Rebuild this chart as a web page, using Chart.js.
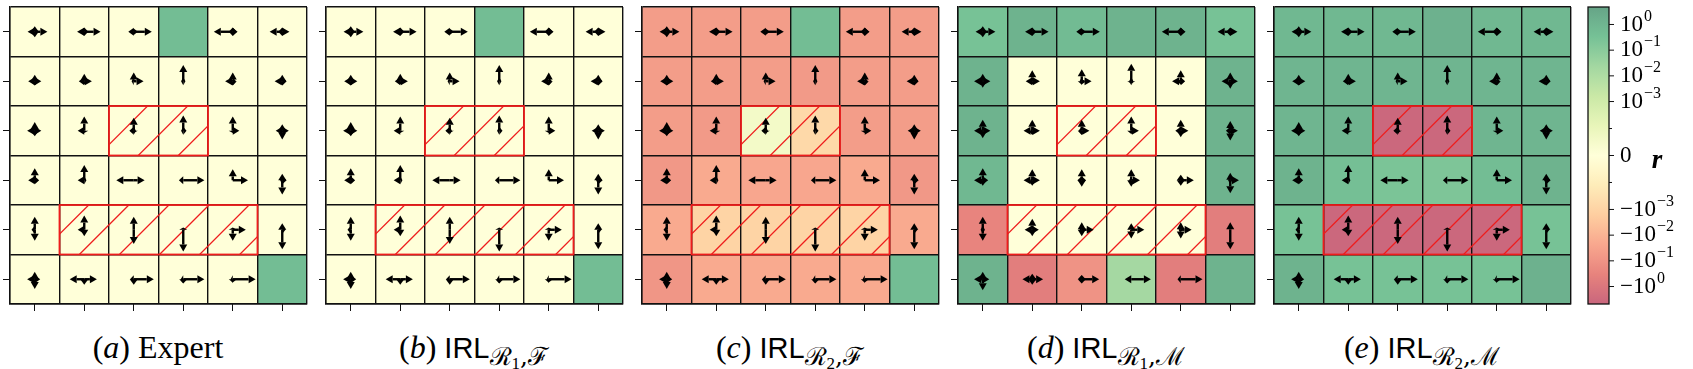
<!DOCTYPE html>
<html>
<head>
<meta charset="utf-8">
<script src="https://cdn.jsdelivr.net/npm/chart.js@4.4.1/dist/chart.umd.min.js"></script>
<style>
  body { margin: 0; background: #fff; width: 1693px; height: 369px; position: relative; overflow: hidden; }
  canvas { position: absolute; top: 0; }
  .cap { position: absolute; top: 331px; width: 316px; text-align: center; font-family: 'Liberation Serif', serif; font-size: 32px; line-height: 32px; color: #000; white-space: nowrap; }
  .cap .sf { font-family: 'Liberation Sans', sans-serif; font-size: 29px; }
  .cap .sub { font-family: 'DejaVu Serif', serif; font-size: 25px; position: relative; top: 7px; }
  .cap .sub2 { font-family: 'Liberation Serif', serif; font-size: 17px; position: relative; top: 4px; }
</style>
</head>
<body>
<script>
// grid layout
const cols = ['0', '1', '2', '3', '4', '5'];
const rows = [0, 1, 2, 3, 4, 5];

// reward per cell, row 0 = top
const rewardExpert = [
    [0, 0, 0, 0.5, 0, 0],
    [0, 0, 0, 0, 0, 0],
    [0, 0, 0, 0, 0, 0],
    [0, 0, 0, 0, 0, 0],
    [0, 0, 0, 0, 0, 0],
    [0, 0, 0, 0, 0, 0.5]
];
const rewardR1F = [
    [0, 0, 0, 0.5, 0, 0],
    [0, 0, 0, 0, 0, 0],
    [0, 0, 0, 0, 0, 0],
    [0, 0, 0, 0, 0, 0],
    [0, 0, 0, 0, 0, 0],
    [0, 0, 0, 0, 0, 0.5]
];
const rewardR2F = [
    [-0.05, -0.05, -0.05, 0.5, -0.05, -0.05],
    [-0.05, -0.05, -0.05, -0.06, -0.05, -0.05],
    [-0.05, -0.06, 0.0003, -0.0009, -0.05, -0.05],
    [-0.07, -0.02, -0.025, -0.025, -0.02, -0.07],
    [-0.02, -0.001, -0.001, -0.001, -0.001, -0.02],
    [-0.08, -0.02, -0.02, -0.02, -0.02, 0.5]
];
const rewardR1M = [
    [0.3, 1.3, 0.6, 1.3, 1.3, 0.3],
    [1.3, 0, 0, 0, 0, 1.3],
    [1.3, 0, 0, 0, 0, 1.3],
    [0.8, 0, 0, 0, 0, 1.3],
    [-0.3, 0, 0, 0, 0, -0.5],
    [1.3, -0.5, -0.1, 0.02, -0.5, 1.3]
];
const rewardR2M = [
    [0.8, 0.8, 0.8, 1.5, 0.8, 0.8],
    [1.0, 1.0, 1.0, 1.0, 1.0, 1.0],
    [1.0, 1.0, -4, -4, 1.0, 1.0],
    [1.3, 0.4, 0.25, 0.2, 0.5, 1.3],
    [0.3, -4, -4, -4, -4, 0.3],
    [1.3, 0.3, 0.3, 0.3, 0.3, 1.5]
];

// policy arrows per cell: [up, down, left, right], null = goal
const policyShared = [
    [[.25, .25, .33, .58], [.2, .2, .33, .75], [.15, .15, .25, .83], null, [.2, .2, .87, .22], [.2, .2, .58, .33]],
    [[.3, .2, .3, .3], [.35, .15, .25, .35], [.4, .05, .1, .45], [.75, .05, .1, .1], [.4, .2, .35, .15], [.3, .2, .35, .2]],
    [[.4, .25, .35, .3], [.65, .1, .3, .05], [.6, .1, .2, .1], [.7, .05, .1, .15], [.65, .1, .05, .3], [.3, .4, .3, .3]],
    [[.55, .15, .3, .2], [.7, .05, .3, .1], [.05, .05, .8, .5], [.05, .05, .2, .97], [.5, .05, .05, .7], [.3, .65, .1, .2]],
    [[.6, .5, .15, .05], [.65, .3, .3, .05], [.6, .65, .05, .05], [.1, 1.0, .05, .05], [.1, .5, .05, .6], [.3, .9, .05, .15]],
    [[.35, .45, .35, .25], [.05, .25, .67, .58], [.05, .25, .17, .92], [.05, .2, .12, .97], [.05, .15, .1, 1.05], null]
];
const policyR1M = [
    [[.25, .25, .33, .58], [.2, .2, .33, .75], [.15, .15, .25, .83], null, [.2, .2, .87, .22], [.2, .2, .58, .33]],
    [[.35, .3, .4, .35], [.5, .15, .3, .35], [.55, .15, .1, .45], [.8, .1, .1, .1], [.5, .15, .4, .2], [.4, .35, .4, .35]],
    [[.5, .35, .4, .35], [.5, .2, .4, .35], [.5, .2, .15, .35], [.65, .15, .05, .35], [.5, .3, .25, .35], [.45, .45, .2, .35]],
    [[.55, .25, .4, .25], [.5, .25, .4, .35], [.5, .3, .2, .2], [.5, .3, .1, .4], [.25, .25, .1, .6], [.35, .6, .1, .4]],
    [[.6, .5, .1, .1], [.5, .3, .35, .3], [.35, .3, .1, .55], [.3, .4, .05, .6], [.35, .4, .1, .5], [.35, .9, .05, .05]],
    [[.35, .5, .4, .3], [.25, .25, .45, .5], [.2, .2, .15, .8], [.05, .05, .3, .9], [.05, .05, .15, 1.0], null]
];

// hatched (red) regions: row, first col, last col
const hatchRow = [2, 4];
const hatchFrom = [2, 1];
const hatchTo = [3, 4];

const panelRewards = [rewardExpert, rewardR1F, rewardR2F, rewardR1M, rewardR2M];
const panelPolicies = [policyShared, policyShared, policyShared, policyR1M, policyShared];
const panelLetters = ['a', 'b', 'c', 'd', 'e'];
const panelNames = ['Expert', 'IRL', 'IRL', 'IRL', 'IRL'];
const panelSubR = ['', '1', '2', '1', '2'];
const panelSubSet = ['', 'ℱ', 'ℱ', 'ℳ', 'ℳ'];

// colour bar ticks
const cbarTicks = [1, 0.1, 0.01, 0.001, 0, -0.001, -0.01, -0.1, -1];
const cbarExp = ['0', '−1', '−2', '−3', '', '−3', '−2', '−1', '0'];
const cbarMinor = [0.0005, -0.0005];

// symlog colour scale
const linThresh = 1e-3;
const linHalf = 2.1;
const sMax = 5.78;
const symlog = (v) => {
    const a = Math.abs(v);
    const s = a <= linThresh ? linHalf * a / linThresh : linHalf + Math.log10(a / linThresh);
    return v < 0 ? -s : s;
};

const RdYlGn = [[165, 0, 38], [215, 48, 39], [244, 109, 67], [253, 174, 97], [254, 224, 139], [255, 255, 191],
    [217, 239, 139], [166, 217, 106], [102, 189, 99], [26, 152, 80], [0, 104, 55]];
const cmapAlpha = 0.6;

const cmap = (t) => {
    t = Math.max(0, Math.min(1, t));
    const p = t * 10;
    const i = Math.min(9, Math.floor(p));
    const f = p - i;
    const c = RdYlGn[i].map((v, k) => v + (RdYlGn[i + 1][k] - v) * f);
    const w = c.map(v => Math.round(255 - cmapAlpha * (255 - v)));
    return `rgb(${w[0]},${w[1]},${w[2]})`;
};
const colorFor = (v) => cmap((symlog(v) + sMax) / (2 * sMax));

// arrows + hatching on top of the heatmap
const drawArrow = (ctx, x, y, dx, dy, len) => {
    if (len < 1.5) return;
    const hl = Math.min(7, len);
    const hw = 4;
    const tx = x + dx * len, ty = y + dy * len;
    const bx = tx - dx * hl, by = ty - dy * hl;
    ctx.beginPath();
    ctx.moveTo(x, y);
    ctx.lineTo(bx, by);
    ctx.stroke();
    ctx.beginPath();
    ctx.moveTo(tx, ty);
    ctx.lineTo(bx - dy * hw, by + dx * hw);
    ctx.lineTo(bx + dy * hw, by - dx * hw);
    ctx.closePath();
    ctx.fill();
};

const overlayPlugin = {
    id: 'overlay',
    afterDraw(chart, args, opts) {
        const ctx = chart.ctx;
        const xs = chart.scales.x;
        const ys = chart.scales.yGrid;
        const area = chart.chartArea;
        const cw = xs.getPixelForValue(1) - xs.getPixelForValue(0);

        // hatched blocks
        ctx.save();
        hatchRow.forEach((r, k) => {
            const x0 = xs.getPixelForValue(hatchFrom[k]) - cw / 2;
            const x1 = xs.getPixelForValue(hatchTo[k]) + cw / 2;
            const y0 = ys.getPixelForValue(r);
            const y1 = ys.getPixelForValue(r + 1);
            ctx.save();
            ctx.beginPath();
            ctx.rect(x0, y0, x1 - x0, y1 - y0);
            ctx.clip();
            ctx.strokeStyle = '#ee1c1c';
            ctx.lineWidth = 1.3;
            const gap = 0.81 * cw;
            const phase = 0.73 * cw;
            for (let c = phase - 2 * gap; c < 2 * (area.right - area.left) + gap; c += gap) {
                // line x + y = c in chart-area coordinates
                ctx.beginPath();
                ctx.moveTo(area.left + c, area.top);
                ctx.lineTo(area.left + c - (area.bottom - area.top), area.bottom);
                ctx.stroke();
            }
            ctx.restore();
            ctx.strokeStyle = '#ee1c1c';
            ctx.lineWidth = 1.8;
            ctx.strokeRect(x0, y0, x1 - x0, y1 - y0);
        });
        ctx.restore();

        // policy arrows
        const policy = opts.policy;
        const unit = 0.44 * cw;
        ctx.save();
        ctx.strokeStyle = '#000';
        ctx.fillStyle = '#000';
        ctx.lineWidth = 2.4;
        rows.forEach(r => {
            cols.forEach((c, ci) => {
                const a = policy[r][ci];
                if (!a) return;
                const cx = xs.getPixelForValue(ci);
                const cy = ys.getPixelForValue(r + 0.5);
                drawArrow(ctx, cx, cy, 0, -1, a[0] * unit);
                drawArrow(ctx, cx, cy, 0, 1, a[1] * unit);
                drawArrow(ctx, cx, cy, -1, 0, a[2] * unit);
                drawArrow(ctx, cx, cy, 1, 0, a[3] * unit);
            });
        });
        ctx.restore();
    }
};

const PANEL_W = 316;
const PANEL_H = 318;

const makePanel = (idx) => {
    const canvas = document.createElement('canvas');
    canvas.width = PANEL_W;
    canvas.height = PANEL_H;
    canvas.style.left = (idx * PANEL_W) + 'px';
    document.body.appendChild(canvas);

    const reward = panelRewards[idx];
    const datasets = rows.map(r => ({
        data: cols.map(() => [r, r + 1]),
        backgroundColor: reward[r].map(colorFor),
        borderWidth: 0,
        grouped: false,
        categoryPercentage: 1,
        barPercentage: 1,
        xAxisID: 'x',
        yAxisID: 'yGrid'
    }));

    new Chart(canvas, {
        type: 'bar',
        data: { labels: cols, datasets },
        options: {
            responsive: false,
            animation: false,
            devicePixelRatio: 1,
            layout: { padding: { left: 3, right: 9, top: 7, bottom: 7 } },
            plugins: { legend: { display: false }, tooltip: { enabled: false }, overlay: { policy: panelPolicies[idx] } },
            scales: {
                x: {
                    type: 'category', position: 'bottom', offset: true,
                    grid: { offset: true, color: '#111', lineWidth: 1.4, drawTicks: false, z: 1 },
                    border: { display: true, color: '#111', width: 1.4, z: 1 },
                    ticks: { display: false },
                    afterFit: s => { s.height = 0; }
                },
                xTick: {
                    type: 'category', position: 'bottom', offset: true,
                    grid: { offset: false, drawOnChartArea: false, color: '#111', lineWidth: 1, tickLength: 7 },
                    border: { display: false },
                    ticks: { display: false },
                    afterFit: s => { s.height = 7; }
                },
                yGrid: {
                    type: 'linear', position: 'left', reverse: true, min: 0, max: 6,
                    grid: { color: '#111', lineWidth: 1.4, drawTicks: false, z: 1 },
                    border: { display: true, color: '#111', width: 1.4, z: 1 },
                    ticks: { display: false, stepSize: 1 },
                    afterFit: s => { s.width = 0; }
                },
                yTick: {
                    type: 'linear', position: 'left', reverse: true, min: 0, max: 6,
                    grid: { drawOnChartArea: false, color: '#111', lineWidth: 1, tickLength: 7 },
                    border: { display: false },
                    ticks: { display: false },
                    afterBuildTicks: s => { s.ticks = rows.map(r => ({ value: r + 0.5 })); },
                    afterFit: s => { s.width = 7; }
                }
            }
        },
        plugins: [overlayPlugin]
    });

    // caption
    const cap = document.createElement('div');
    cap.className = 'cap';
    cap.style.left = (idx * PANEL_W) + 'px';
    let html = '(<i>' + panelLetters[idx] + '</i>) ';
    if (panelSubR[idx]) {
        html += '<span class="sf">' + panelNames[idx] + '</span><span class="sub">ℛ<span class="sub2">' +
            panelSubR[idx] + '</span>,' + panelSubSet[idx] + '</span>';
    } else {
        html += panelNames[idx];
    }
    cap.innerHTML = html;
    document.body.appendChild(cap);
};

panelLetters.forEach((_, i) => makePanel(i));

// colour bar
const cbarCanvas = document.createElement('canvas');
cbarCanvas.width = 113;
cbarCanvas.height = PANEL_H;
cbarCanvas.style.left = '1580px';
document.body.appendChild(cbarCanvas);

const cbarPlugin = {
    id: 'cbar',
    afterDraw(chart) {
        const ctx = chart.ctx;
        const area = chart.chartArea;
        const ys = chart.scales.y;
        ctx.save();
        ctx.strokeStyle = '#111';
        ctx.lineWidth = 1.3;
        ctx.strokeRect(area.left, area.top, area.right - area.left, area.bottom - area.top);
        ctx.lineWidth = 1;
        ctx.fillStyle = '#000';
        ctx.textBaseline = 'middle';
        cbarTicks.forEach((v, i) => {
            const y = ys.getPixelForValue(symlog(v));
            ctx.beginPath();
            ctx.moveTo(area.right, y);
            ctx.lineTo(area.right + 5, y);
            ctx.stroke();
            let x = area.right + 11;
            ctx.font = '23px "Liberation Serif"';
            ctx.textAlign = 'left';
            const base = v === 0 ? '0' : (v < 0 ? '−10' : '10');
            ctx.fillText(base, x, y);
            x += ctx.measureText(base).width + 1;
            if (cbarExp[i]) {
                ctx.font = '16px "Liberation Serif"';
                ctx.fillText(cbarExp[i], x, y - 8);
            }
        });
        cbarMinor.forEach(v => {
            const y = ys.getPixelForValue(symlog(v));
            ctx.beginPath();
            ctx.moveTo(area.right, y);
            ctx.lineTo(area.right + 3, y);
            ctx.stroke();
        });
        ctx.font = 'italic bold 27px "Liberation Serif"';
        ctx.textAlign = 'center';
        ctx.fillText('r', area.right + 48, ys.getPixelForValue(symlog(0)) + 6);
        ctx.restore();
    }
};

new Chart(cbarCanvas, {
    type: 'bar',
    data: {
        labels: ['r'],
        datasets: [{
            data: [[-sMax, sMax]],
            borderWidth: 0,
            categoryPercentage: 1,
            barPercentage: 1,
            backgroundColor: (c) => {
                const area = c.chart.chartArea;
                if (!area) return '#fff';
                const g = c.chart.ctx.createLinearGradient(0, area.bottom, 0, area.top);
                for (let k = 0; k <= 20; k++) g.addColorStop(k / 20, cmap(k / 20));
                return g;
            }
        }]
    },
    options: {
        responsive: false,
        animation: false,
        devicePixelRatio: 1,
        layout: { padding: { left: 8, right: 84, top: 7, bottom: 14 } },
        plugins: { legend: { display: false }, tooltip: { enabled: false } },
        scales: {
            x: { display: false },
            y: { display: false, min: -sMax, max: sMax }
        }
    },
    plugins: [cbarPlugin]
});
</script>
</body>
</html>
